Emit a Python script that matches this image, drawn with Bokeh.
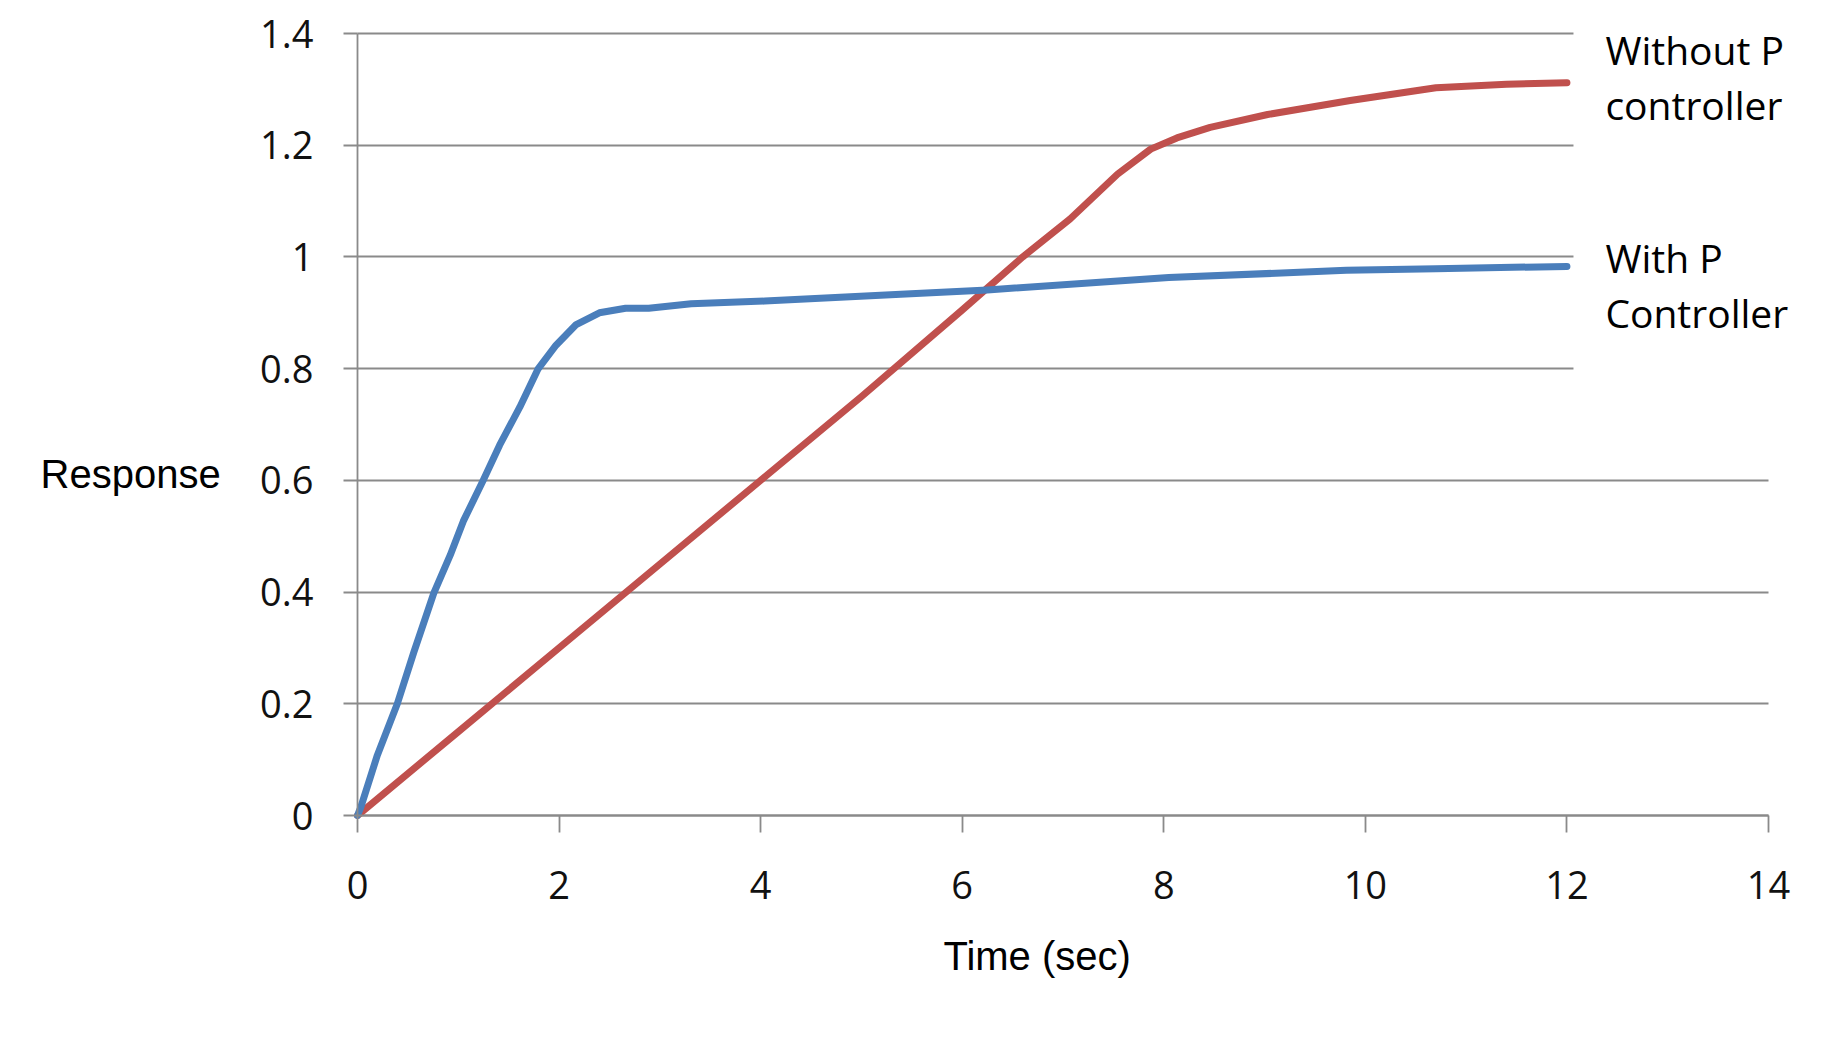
from bokeh.plotting import figure
from bokeh.models import FixedTicker, Label, BoxAnnotation, LinearAxis, Range1d, Grid
from bokeh.embed import file_html
from bokeh.resources import INLINE

# ---- data ----
t_with_p = [0.0, 0.033, 0.197, 0.395, 0.56, 0.757, 0.92, 1.05, 1.25, 1.41, 1.61, 1.79,
            1.97, 2.17, 2.40, 2.66, 2.89, 3.31, 4.04, 5.39, 6.25, 8.05, 9.81, 10.7, 12.0]
y_with_p = [0.0, 0.015, 0.108, 0.200, 0.293, 0.398, 0.466, 0.527, 0.601, 0.663, 0.731, 0.799,
            0.842, 0.879, 0.900, 0.908, 0.908, 0.916, 0.921, 0.933, 0.941, 0.963, 0.976, 0.979, 0.983]

t_without_p = [0.0, 1.0, 2.0, 3.0, 4.0, 5.0, 6.0, 6.6, 7.07, 7.54, 7.87, 8.13, 8.46,
               9.03, 9.85, 10.7, 11.4, 12.0]
y_without_p = [0.0, 0.15, 0.30, 0.45, 0.60, 0.75, 0.905, 1.0, 1.068, 1.148, 1.193, 1.213, 1.232,
               1.255, 1.280, 1.303, 1.309, 1.312]

x_ticks = [0, 2, 4, 6, 8, 10, 12, 14]
y_ticks = [0, 0.2, 0.4, 0.6, 0.8, 1.0, 1.2, 1.4]
y_tick_labels = ["0", "0.2", "0.4", "0.6", "0.8", "1", "1.2", "1.4"]

series_labels = [["Without P", "controller"], ["With P", "Controller"]]
x_title = "Time (sec)"
y_title = "Response"

# ---- layout: the frame fills the canvas; axes sit at x=0 / y=0 ----
W, H = 1825, 1041
X0_PX, X14_PX = 357.0, 1768.0      # pixel columns of x=0 and x=14
Y0_PX, Y14_PX = 815.0, 33.0        # pixel rows of y=0 and y=1.4
sx = (X14_PX - X0_PX) / (x_ticks[-1] - x_ticks[0])
sy = (Y0_PX - Y14_PX) / (y_ticks[-1] - y_ticks[0])
x_range = Range1d(-X0_PX / sx, (W - X0_PX) / sx)
y_range = Range1d(-(H - Y0_PX) / sy, Y0_PX / sy)

p = figure(width=W, height=H, x_range=x_range, y_range=y_range,
           x_axis_location=None, y_axis_location=None,
           output_backend="svg", toolbar_location=None, min_border=0)
p.outline_line_color = None
p.background_fill_color = "white"
p.border_fill_color = "white"
p.xgrid.visible = False
p.ygrid.visible = False

axis_gray = "#8a8a8a"

xaxis = LinearAxis(fixed_location=0, bounds=(x_ticks[0], x_ticks[-1]), ticker=FixedTicker(ticks=x_ticks))
yaxis = LinearAxis(fixed_location=0, bounds=(y_ticks[0], y_ticks[-1]), ticker=FixedTicker(ticks=y_ticks))
yaxis.major_label_overrides = {v: s for v, s in zip(y_ticks, y_tick_labels)}
for ax in (xaxis, yaxis):
    ax.axis_line_color = axis_gray
    ax.axis_line_width = 1.8
    ax.major_tick_line_color = axis_gray
    ax.major_tick_line_width = 1.8
    ax.minor_tick_line_color = None
    ax.major_tick_in = 0
    ax.major_label_text_font = "Open Sans"
    ax.major_label_text_font_size = "38px"
    ax.major_label_text_color = "#111111"
xaxis.major_tick_out = 17
yaxis.major_tick_out = 14
xaxis.major_label_standoff = 38
yaxis.major_label_standoff = 30
p.add_layout(xaxis, "below")
p.add_layout(yaxis, "left")

# horizontal grid lines spanning x = 0..14
try:
    grid = Grid(dimension=1, ticker=FixedTicker(ticks=y_ticks),
                cross_bounds=(x_ticks[0], x_ticks[-1]),
                grid_line_color=axis_gray, grid_line_width=1.8)
    p.add_layout(grid)
except Exception:
    p.segment(x0=[x_ticks[0]] * len(y_ticks), x1=[x_ticks[-1]] * len(y_ticks),
              y0=y_ticks, y1=y_ticks, line_color=axis_gray, line_width=1.8, level="underlay")

# ---- lines ----
p.line(t_without_p, y_without_p, line_color="#C0504D", line_width=7, line_cap="round", line_join="round")
p.line(t_with_p, y_with_p, line_color="#4A7EBB", line_width=7, line_cap="round", line_join="round")

# white text-box area that hides grid lines behind the series labels
p.add_layout(BoxAnnotation(left=12.065, right=14.6, bottom=0.7, top=1.5,
                           fill_color="white", fill_alpha=1.0, line_color=None))

# series labels
lab_x = 12.382
lab_ys = [[1.3713, 1.2728], [0.9989, 0.9004]]
for lines, ys in zip(series_labels, lab_ys):
    for txt, yy in zip(lines, ys):
        p.add_layout(Label(x=lab_x, y=yy, text=txt, text_font="Open Sans",
                           text_font_size="39px", text_color="#000000",
                           text_baseline="alphabetic", text_align="left"))

# axis titles
p.add_layout(Label(x=5.814, y=-0.2507, text=x_title, text_font="Liberation Sans",
                   text_font_size="40px", text_color="#000000",
                   text_baseline="alphabetic", text_align="left"))
p.add_layout(Label(x=-3.145, y=0.6122, text=y_title, text_font="Liberation Sans",
                   text_font_size="40px", text_color="#000000",
                   text_baseline="alphabetic", text_align="left"))

open("out.html", "w").write(file_html(p, INLINE))
